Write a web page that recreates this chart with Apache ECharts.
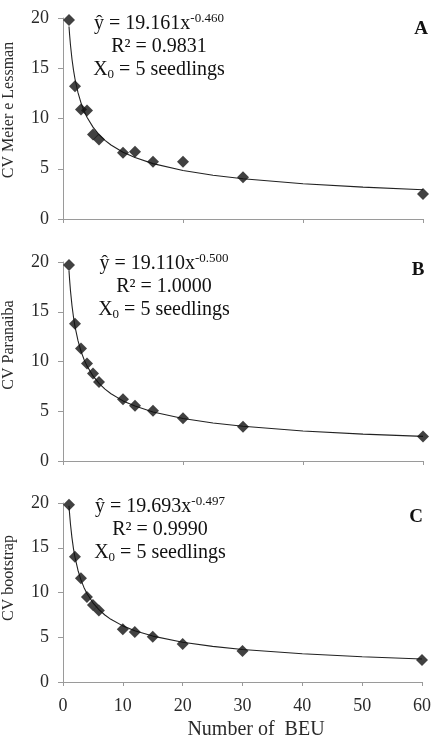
<!DOCTYPE html>
<html>
<head>
<meta charset="utf-8">
<script src="https://cdn.jsdelivr.net/npm/echarts@6/dist/echarts.min.js"></script>
<style>
html,body{margin:0;padding:0;background:#fff;}
#c{width:434px;height:748px;}
</style>
</head>
<body>
<div id="c"></div>
<script>
// BEU counts (x) and observed CV values for each method
const beu = [1, 2, 3, 4, 5, 6, 10, 12, 15, 20, 30, 60];
const cvMeier = [19.8, 13.2, 10.9, 10.8, 8.4, 7.9, 6.6, 6.7, 5.7, 5.7, 4.15, 2.5];
const cvParanaiba = [19.7, 13.8, 11.3, 9.8, 8.8, 7.95, 6.2, 5.55, 5.05, 4.3, 3.45, 2.45];
const cvBootstrap = [19.8, 14.0, 11.6, 9.5, 8.6, 8.0, 5.9, 5.6, 5.05, 4.25, 3.45, 2.45];

// fitted curves
const curveX = [1, 1.1, 1.25, 1.5, 1.75, 2, 2.5, 3, 3.5, 4, 5, 6, 7, 8, 10, 12, 15, 20, 25, 30, 40, 50, 60];
const curveMeier = [19.16, 18.34, 17.29, 15.90, 14.81, 13.93, 12.57, 11.56, 10.77, 10.13, 9.14, 8.40, 7.83, 7.36, 6.64, 6.11, 5.51, 4.83, 4.36, 4.01, 3.51, 3.17, 2.91];
const curveParanaiba = [19.11, 18.22, 17.09, 15.60, 14.45, 13.51, 12.09, 11.03, 10.21, 9.56, 8.55, 7.80, 7.22, 6.76, 6.04, 5.52, 4.93, 4.27, 3.82, 3.49, 3.02, 2.70, 2.47];
const curveBootstrap = [19.69, 18.78, 17.63, 16.10, 14.91, 13.95, 12.49, 11.41, 10.57, 9.89, 8.85, 8.08, 7.49, 7.00, 6.27, 5.73, 5.13, 4.44, 3.98, 3.63, 3.15, 2.82, 2.57];

// texts
const yTitles = ['CV Meier e Lessman', 'CV Paranaiba', 'CV bootstrap'];
const panelLetters = ['A', 'B', 'C'];
const eqCoef = ['19.161x', '19.110x', '19.693x'];
const eqExp = ['-0.460', '-0.500', '-0.497'];
const r2Text = ['R² = 0.9831', 'R² = 1.0000', 'R² = 0.9990'];
const x0Text = ' = 5 seedlings';
const xTitle = 'Number of  BEU';
const yTicks = [0, 20, 5];   // min, max, interval
const xTicks = [0, 60];

const FONT = '"Liberation Serif", "DejaVu Serif", serif';
const obs = [cvMeier, cvParanaiba, cvBootstrap];
const fits = [curveMeier, curveParanaiba, curveBootstrap];

const grids = [
  {left: 63, right: 11, top: 18, height: 201},
  {left: 63, right: 11, top: 262, height: 199},
  {left: 63, right: 11, top: 503, height: 179}
];

const xAxes = grids.map((g, i) => ({
  type: 'value', gridIndex: i, min: xTicks[0], max: xTicks[1],
  interval: i === 2 ? 10 : 20,
  axisLine: {lineStyle: {color: '#9a9a9a', width: 1}},
  axisTick: {show: true, inside: false, length: 4, lineStyle: {color: '#9a9a9a'}},
  axisLabel: {show: i === 2, fontFamily: FONT, fontSize: 18, color: '#2a2a2a', margin: 15},
  splitLine: {show: false}
}));

const yAxes = grids.map((g, i) => ({
  type: 'value', gridIndex: i, min: yTicks[0], max: yTicks[1], interval: yTicks[2],
  axisLine: {show: true, lineStyle: {color: '#9a9a9a', width: 1}},
  axisTick: {show: true, inside: false, length: 5, lineStyle: {color: '#9a9a9a'}},
  axisLabel: {fontFamily: FONT, fontSize: 18, color: '#2a2a2a', margin: 14},
  splitLine: {show: false}
}));

const series = [];
for (let i = 0; i < 3; i++) {
  series.push({
    type: 'line', xAxisIndex: i, yAxisIndex: i,
    data: curveX.map((x, k) => [x, fits[i][k]]),
    smooth: false, showSymbol: false, symbol: 'none',
    lineStyle: {color: '#222', width: 1.1}, z: 2, silent: true
  });
  series.push({
    type: 'scatter', xAxisIndex: i, yAxisIndex: i,
    data: beu.map((x, k) => [x, obs[i][k]]),
    symbol: 'diamond', symbolSize: 12,
    itemStyle: {color: '#111'}, z: 3
  });
}

// annotation positions (layout only)
const eqCenterX = [159, 164, 160];
const eqLine1Y = [23, 263, 506];
const lineGap = 23.5;
const letterPos = [[421, 29], [418, 270], [416, 517]];
const yTitleCenter = [[9, 110], [9, 345], [9, 578]];

const graphics = [];
for (let i = 0; i < 3; i++) {
  graphics.push({
    type: 'text', x: eqCenterX[i], y: eqLine1Y[i],
    style: {
      text: '{a|ŷ = ' + eqCoef[i] + '}{s|' + eqExp[i] + '}',
      align: 'center', verticalAlign: 'middle',
      rich: {
        a: {fontFamily: FONT, fontSize: 20, fill: '#111', lineHeight: 22, verticalAlign: 'bottom'},
        s: {fontFamily: FONT, fontSize: 13, fill: '#111', lineHeight: 22, verticalAlign: 'top', padding: [0, 0, 10, 0]}
      }
    }
  });
  graphics.push({
    type: 'text', x: eqCenterX[i], y: eqLine1Y[i] + lineGap,
    style: {text: r2Text[i], font: '20px ' + FONT, fill: '#111', align: 'center', verticalAlign: 'middle'}
  });
  graphics.push({
    type: 'text', x: eqCenterX[i], y: eqLine1Y[i] + 2 * lineGap,
    style: {
      text: '{a|X}{b|0}{a|' + x0Text + '}',
      align: 'center', verticalAlign: 'middle',
      rich: {
        a: {fontFamily: FONT, fontSize: 20, fill: '#111', lineHeight: 22},
        b: {fontFamily: FONT, fontSize: 13, fill: '#111', lineHeight: 22, padding: [10, 0, 0, 0]}
      }
    }
  });
  graphics.push({
    type: 'text', x: letterPos[i][0], y: letterPos[i][1],
    style: {text: panelLetters[i], font: 'bold 19px ' + FONT, fill: '#111', align: 'center', verticalAlign: 'middle'}
  });
  graphics.push({
    type: 'text', x: yTitleCenter[i][0], y: yTitleCenter[i][1], rotation: Math.PI / 2,
    style: {text: yTitles[i], font: '16px ' + FONT, fill: '#2a2a2a', align: 'center', verticalAlign: 'middle'}
  });
}
graphics.push({
  type: 'text', x: 256, y: 730,
  style: {text: xTitle, font: '20px ' + FONT, fill: '#2a2a2a', align: 'center', verticalAlign: 'middle'}
});

const chart = echarts.init(document.getElementById('c'), null, {renderer: 'canvas'});
chart.setOption({
  backgroundColor: '#fff',
  animation: false,
  grid: grids,
  xAxis: xAxes,
  yAxis: yAxes,
  series: series,
  graphic: graphics
});
</script>
</body>
</html>
